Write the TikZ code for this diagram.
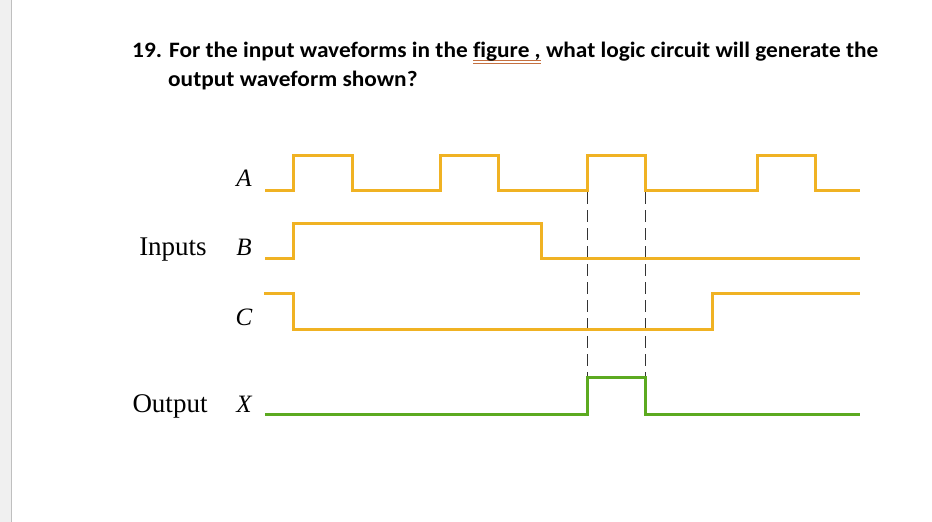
\documentclass[tikz,border=0pt]{standalone}
\usepackage{fontspec}
\setmainfont{Liberation Serif}
\newfontfamily\titlefont[Ligatures=NoCommon]{Carlito}
\definecolor{wavecol}{RGB}{240,178,35}
\definecolor{outcol}{RGB}{92,170,32}
\definecolor{spellcol}{RGB}{196,112,64}
\newcommand{\spellline}[1]{\setbox0=\hbox{#1}\leavevmode\rlap{\color{spellcol}\raisebox{-4pt}{\rule{\wd0}{0.7pt}}}\rlap{\color{spellcol}\raisebox{-6.2pt}{\rule{\wd0}{0.7pt}}}\box0\relax}

\begin{document}
\begin{tikzpicture}[x=1pt, y=-1pt,
        wave/.style={draw=wavecol, line width=3pt},
        outwave/.style={draw=outcol, line width=3pt},
        guide/.style={draw=black!80, line width=1pt, dash pattern=on 12pt off 6pt},
        sig/.style={anchor=base, font=\fontsize{25}{25}\selectfont\itshape, inner sep=0pt},
        lbl/.style={anchor=base, font=\fontsize{27}{27}\selectfont, inner sep=0pt},
        qtext/.style={anchor=base west, inner sep=0pt, font=\titlefont\bfseries\fontsize{22}{22}\selectfont}]
            \useasboundingbox[fill=white] (0,0) rectangle (932,522);
            \fill[black!6] (0,0) rectangle (11,522);
            \draw[black!25, line width=1pt] (11.5,0) -- (11.5,522);

            % question
            \node[qtext] (qline1) at (132,57) {\scalebox{1.06}[1]{19. For the input waveforms in the \spellline{figure ,} what logic circuit will generate the}};
            \node[qtext] (qline2) at (168,86) {\scalebox{1.06}[1]{output waveform shown?}};

            % labels
            \node[sig] (la) at (244,186) {A};
            \node[sig] (lb) at (244,255) {B};
            \node[sig] (lc) at (244,325) {C};
            \node[sig] (lx) at (244,412) {X};
            \node[lbl] (inputs) at (173,255) {Inputs};
            \node[lbl] (output) at (170,412) {Output};

            % guide lines
            \coordinate (g1top) at (587,192);
            \coordinate (g1bot) at (587,376);
            \coordinate (g2top) at (645,192);
            \coordinate (g2bot) at (645,376);
            \draw[guide] (g1top) -- (g1bot);
            \draw[guide] (g2top) -- (g2bot);

            % waveforms
            \draw[wave] (265,190) -- (293,190) -- (293,155) -- (352,155) -- (352,190) -- (440,190) -- (440,155) -- (498,155) -- (498,190) -- (587,190) -- (587,155) -- (645,155) -- (645,190) -- (757,190) -- (757,155) -- (815,155) -- (815,190) -- (860,190);
            \draw[wave] (265,258) -- (293,258) -- (293,223) -- (541,223) -- (541,258) -- (860,258);
            \draw[wave] (264,293) -- (293,293) -- (293,329) -- (712,329) -- (712,293) -- (860,293);
            \draw[outwave] (265,414) -- (587,414) -- (587,377) -- (645,377) -- (645,414) -- (860,414);
        \end{tikzpicture}
\end{document}
